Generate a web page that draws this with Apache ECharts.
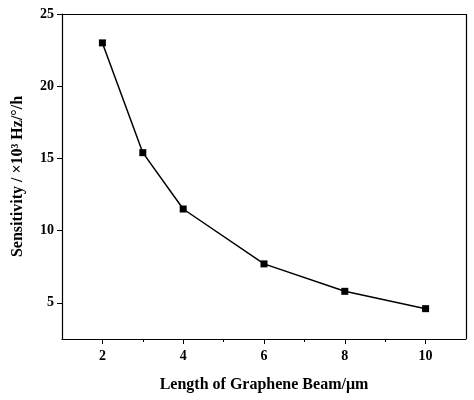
<!DOCTYPE html>
<html><head><meta charset="utf-8">
<script src="https://cdn.jsdelivr.net/npm/echarts@6/dist/echarts.min.js"></script>
<style>html,body{margin:0;padding:0;background:#fff}#c{width:474px;height:400px}</style>
</head><body><div id="c"></div>
<script>
var beamLength = [2, 3, 4, 6, 8, 10];
var sensitivity = [23.0, 15.4, 11.5, 7.7, 5.8, 4.6];
var xTicks = [2, 4, 6, 8, 10];
var yTicks = [5, 10, 15, 20, 25];

var font = 'Liberation Serif';
var chart = echarts.init(document.getElementById('c'));
chart.setOption({
    animation: false,
    grid: {left: 62, right: 8, top: 14, bottom: 61},
    xAxis: {
        type: 'value', min: 1, max: 11,
        name: 'Length of Graphene Beam/μm', nameLocation: 'middle', nameGap: 38,
        nameTextStyle: {fontFamily: font, fontWeight: 'bold', fontSize: 16, color: '#000'},
        axisLine: {lineStyle: {color: '#000', width: 1.2}},
        axisTick: {inside: false, length: 5, customValues: xTicks, lineStyle: {color: '#000'}},
        minorTick: {show: true, splitNumber: 2, length: 3, lineStyle: {color: '#000'}},
        axisLabel: {customValues: xTicks, fontFamily: font, fontWeight: 'bold', fontSize: 14, color: '#000', margin: 10},
        splitLine: {show: false}
    },
    yAxis: {
        type: 'value', min: 2.5, max: 25,
        name: 'Sensitivity / ×10³ Hz/°/h', nameLocation: 'middle', nameGap: 36,
        nameTextStyle: {fontFamily: font, fontWeight: 'bold', fontSize: 16, color: '#000'},
        axisLine: {lineStyle: {color: '#000', width: 1.2}},
        axisTick: {inside: false, length: 5, customValues: yTicks, lineStyle: {color: '#000'}},
        axisLabel: {customValues: yTicks, fontFamily: font, fontWeight: 'bold', fontSize: 14, color: '#000', margin: 8},
        splitLine: {show: false}
    },
    series: [{
        type: 'line',
        data: beamLength.map(function (x, i) { return [x, sensitivity[i]]; }),
        symbol: 'rect', symbolSize: 7,
        itemStyle: {color: '#000'},
        lineStyle: {color: '#000', width: 1.5},
        markLine: {
            silent: true, symbol: 'none', label: {show: false},
            lineStyle: {color: '#000', type: 'solid', width: 1.2},
            data: [[{coord: [1, 25]}, {coord: [11, 25]}], [{coord: [11, 2.5]}, {coord: [11, 25]}]]
        }
    }]
});
</script></body></html>
